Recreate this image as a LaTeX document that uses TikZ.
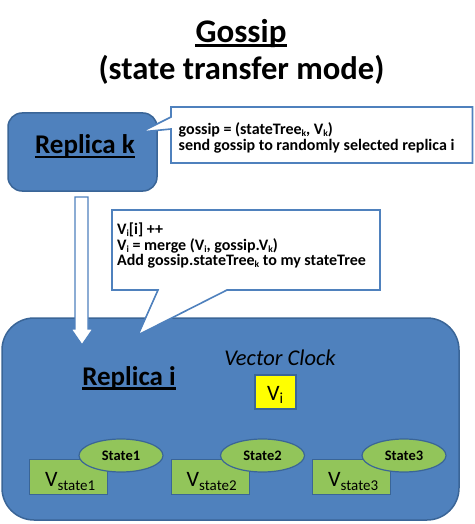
\documentclass[tikz,border=0pt]{standalone}
\usepackage{fontspec}
\setmainfont{Carlito}
\usetikzlibrary{shapes.geometric}
\definecolor{boxblue}{HTML}{4F81BD}
\definecolor{edgeblue}{HTML}{3A6597}
\definecolor{stgreen}{HTML}{92C55A}
\definecolor{vyellow}{HTML}{FFFF00}
\tikzset{
  replica/.style={draw=edgeblue, line width=1.5pt, fill=boxblue, rounded corners=#1},
  calloutbox/.style={draw=boxblue, line width=1.6pt, fill=white, line join=miter},
  ctext/.style={font=\fontsize{16}{16}\selectfont\bfseries, anchor=base west, inner sep=0pt},
  bigtext/.style={font=\fontsize{#1}{#1}\selectfont\bfseries, anchor=base, inner sep=0pt},
  uline/.style={line width=#1},
  vrect/.style={draw=edgeblue, line width=1.2pt, fill=stgreen},
  stell/.style={ellipse, draw=edgeblue, line width=1.2pt, fill=stgreen, minimum width=84pt, minimum height=33pt, inner sep=0pt, font=\fontsize{14.5}{14.5}\selectfont\bfseries},
}
\newcommand{\sbs}[1]{\raisebox{-2pt}{\fontsize{9.5}{9.5}\selectfont #1}}
\begin{document}
\begin{tikzpicture}[x=1pt,y=-1pt]
\useasboundingbox (0,0) rectangle (474,524);
% title
\node[bigtext=33] (title1) at (241,42.3) {Gossip};
\draw[uline=2.4pt] ([yshift=-3.4pt]title1.base west) -- ([yshift=-3.4pt]title1.base east);
\node[bigtext=32.6] (title2) at (241.5,80) {(state transfer mode)};
% replica k
\draw[replica=14pt] (8,113) rectangle (157,191);
\node[bigtext=27] (rk) at (85,153.5) {Replica k};
\draw[uline=2.2pt] ([yshift=-3.5pt]rk.base west) -- ([yshift=-3.5pt]rk.base east);
% callout 1
\draw[calloutbox] (171,107) -- (472.5,107) -- (472.5,163) -- (171,163) -- (171,129) -- (141,132) -- (171,117) -- cycle;
\node[ctext] (c1a) at (178.5,134) {gossip = (stateTree\sbs{k}, V\sbs{k})};
\node[ctext] (c1b) at (178.5,150) {send gossip to randomly selected replica i};
% replica i
\draw[replica=32pt] (2,318) rectangle (459,520);
\node[bigtext=27] (ri) at (129,385) {Replica i};
\draw[uline=2.2pt] ([yshift=-3.5pt]ri.base west) -- ([yshift=-3.5pt]ri.base east);
\node[font=\fontsize{22.5}{23}\selectfont\itshape, anchor=base, inner sep=0pt] (vc) at (280,365) {Vector Clock};
\node[draw=edgeblue, line width=1.2pt, fill=vyellow, minimum width=41pt, minimum height=34pt, inner sep=0pt] (vi) at (275.5,392) {};
\node[font=\fontsize{22}{22}\selectfont, anchor=base, inner sep=0pt] (vil) at (275.5,400) {V\textsubscript{i}};
% arrow
\draw[draw=boxblue, line width=1.4pt, fill=white, line join=miter] (75,197) -- (88,197) -- (88,329) -- (93,329) -- (82,345) -- (71,329) -- (75,329) -- cycle;
% callout 2
\draw[calloutbox] (112,210) -- (380,210) -- (380,290) -- (227,290) -- (138,335) -- (158,290) -- (112,290) -- cycle;
\node[ctext] (c2a) at (117,234.5) {V\sbs{i}[i] ++};
\node[ctext] (c2b) at (117,250) {V\sbs{i} = merge (V\sbs{i}, gossip.V\sbs{k})};
\node[ctext] (c2c) at (117,265.5) {Add gossip.stateTree\sbs{k} to my stateTree};
% states
\foreach \n/\dx in {1/0,2/141.5,3/283}{
  \node[vrect, minimum width=78pt, minimum height=35pt, inner sep=0pt, anchor=north west] (vs\n) at (29+\dx,459) {};
  \node[anchor=base west, inner sep=0pt, font=\fontsize{22}{22}\selectfont] (vl\n) at (45+\dx,486) {V\raisebox{-4pt}{\fontsize{15}{15}\selectfont state\n}};
  \node[stell] (st\n) at (121+\dx,455.5) {State\n};
}
\end{tikzpicture}
\end{document}
